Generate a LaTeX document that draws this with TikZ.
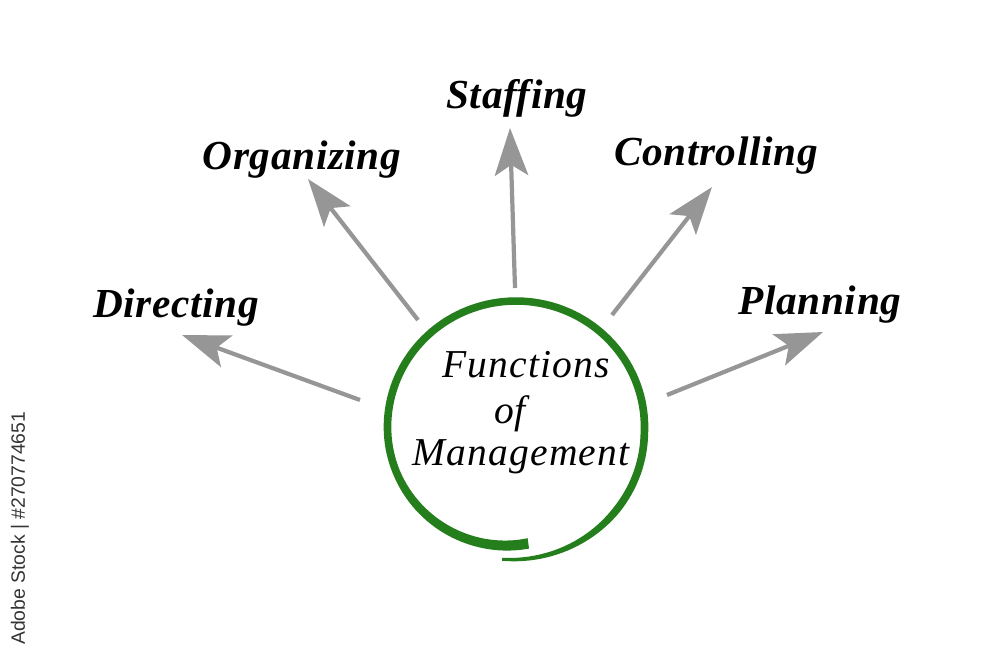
\documentclass[tikz,border=0pt]{standalone}
\usepackage{fontspec}
\setmainfont{Liberation Serif}
\newfontfamily\labelfont[LetterSpace=1.5]{Liberation Serif}
\newfontfamily\centrefont[LetterSpace=3]{Liberation Serif}
\newfontfamily\stockfont{Liberation Sans}
\usetikzlibrary{arrows.meta}
\definecolor{arrowgray}{RGB}{150,150,150}
\definecolor{ringgreen}{RGB}{36,126,28}
\begin{document}
\begin{tikzpicture}[x=0.02cm,y=-0.02cm,
  func/.style={font=\labelfont\bfseries\itshape\fontsize{23.5}{28}\selectfont, anchor=base, inner sep=0pt},
  centre/.style={font=\centrefont\itshape\fontsize{22.5}{27}\selectfont, anchor=base, inner sep=0pt},
  spoke/.style={draw=arrowgray, line width=2.4pt, -{Stealth[length=27pt,width=19pt,inset=6pt]}},
  declare function={ringr(\s)=126-9*(max(0,1-4*\s))^2+7*max(0,4*\s-3);
                    ringw(\s)=7.5+3*max(0,1-5*\s)-4.5*max(0,(\s-0.85)/0.15);}]
\useasboundingbox (0,0) rectangle (1000,650);

% ring, drawn as a filled band that tapers
\fill[ringgreen]
  plot[domain=0:1,samples=160] ({516+1.02*(ringr(\x)+ringw(\x)/2)*cos(276-372*\x)},{427-(ringr(\x)+ringw(\x)/2)*sin(276-372*\x)})
  -- plot[domain=1:0,samples=160] ({516+1.02*(ringr(\x)-ringw(\x)/2)*cos(276-372*\x)},{427-(ringr(\x)-ringw(\x)/2)*sin(276-372*\x)})
  -- cycle;

\node[centre] (fn1) at (526,377) {Functions};
\node[centre] (fn2) at (510,423) {of};
\node[centre] (fn3) at (521,465) {Management};

\node[func] (dir) at (176,317) {Directing};
\node[func] (org) at (302,169) {Organizing};
\node[func] (sta) at (517,108) {Staffing};
\node[func] (con) at (716,165) {Controlling};
\node[func] (pla) at (820,314) {Planning};

\coordinate (dirS) at (360,400); \coordinate (dirE) at (182,335);
\coordinate (orgS) at (418,320); \coordinate (orgE) at (308,179);
\coordinate (staS) at (515,288); \coordinate (staE) at (510,128);
\coordinate (conS) at (612,315); \coordinate (conE) at (712,187);
\coordinate (plaS) at (667,395); \coordinate (plaE) at (823,332);

\draw[spoke] (dirS) -- (dirE);
\draw[spoke] (orgS) -- (orgE);
\draw[spoke] (staS) -- (staE);
\draw[spoke] (conS) -- (conE);
\draw[spoke] (plaS) -- (plaE);

\node[rotate=90, anchor=west, inner sep=0pt, text=black!80,
  font=\stockfont\fontsize{11}{13}\selectfont] (stock) at (20,645) {Adobe Stock | \#270774651};
\end{tikzpicture}
\end{document}
